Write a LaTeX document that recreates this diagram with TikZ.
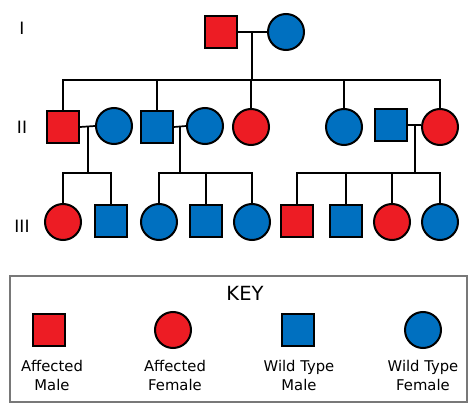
\documentclass[tikz,border=0pt]{standalone}
\usepackage{fontspec}
\setmainfont{DejaVu Sans}

\definecolor{affected}{RGB}{237,28,36}
\definecolor{wildtype}{RGB}{0,112,192}
\definecolor{keyframe}{RGB}{120,120,120}

\tikzset{
  male/.style={draw,shape=rectangle,line width=2pt,minimum size=32pt,inner sep=0pt},
  female/.style={draw,shape=circle,line width=2pt,minimum size=36pt,inner sep=0pt},
  gen/.style={font=\fontsize{17}{20}\selectfont},
  keytext/.style={font=\fontsize{14.8}{19}\selectfont}
}

\begin{document}
\begin{tikzpicture}[x=1pt,y=-1pt,line width=1.7pt]
  \useasboundingbox (0,0) rectangle (474,409);

  % generation labels
  \draw (22,28) node [gen] (genI) {I};
  \draw (22,127) node [gen] (genII) {II};
  \draw (22,226) node [gen] (genIII) {III};

  % generation I
  \draw (221,32) node [male,fill=affected] (mI) {};
  \draw (286,32) node [female,fill=wildtype] (fI) {};

  % generation II
  \draw (63,127) node [male,fill=affected] (mIIa) {};
  \draw (114,126) node [female,fill=wildtype] (fIIa) {};
  \draw (157,127) node [male,fill=wildtype] (mIIb) {};
  \draw (205,126) node [female,fill=wildtype] (fIIb) {};
  \draw (251,127) node [female,fill=affected] (fIIc) {};
  \draw (344,127) node [female,fill=wildtype] (fIId) {};
  \draw (391,125) node [male,fill=wildtype] (mIIc) {};
  \draw (440,127) node [female,fill=affected] (fIIe) {};

  % generation III
  \draw (63,222) node [female,fill=affected] (fIIIa) {};
  \draw (111,221) node [male,fill=wildtype] (mIIIa) {};
  \draw (159,222) node [female,fill=wildtype] (fIIIb) {};
  \draw (206,221) node [male,fill=wildtype] (mIIIb) {};
  \draw (252,222) node [female,fill=wildtype] (fIIIc) {};
  \draw (297,221) node [male,fill=affected] (mIIIc) {};
  \draw (346,221) node [male,fill=wildtype] (mIIId) {};
  \draw (392,222) node [female,fill=affected] (fIIId) {};
  \draw (440,222) node [female,fill=wildtype] (fIIIe) {};

  % couples and sibships
  \coordinate (cI) at (252,32);
  \coordinate (sI) at (252,80);
  \coordinate (cIIa) at (88,126);
  \coordinate (sIIa) at (88,173);
  \coordinate (cIIb) at (180,126);
  \coordinate (sIIb) at (180,173);
  \coordinate (cIIc) at (415,125);
  \coordinate (sIIc) at (415,173);

  \draw (mI.east) -- (fI.west);
  \draw (cI) -- (sI);
  \draw (mIIa.north) |- (sI);
  \draw (mIIb.north) |- (sI);
  \draw (fIIc.north) |- (sI);
  \draw (fIId.north) |- (sI);
  \draw (fIIe.north) |- (sI);

  \draw (mIIa.east) -- (fIIa.west);
  \draw (cIIa) -- (sIIa);
  \draw (fIIIa.north) |- (sIIa);
  \draw (mIIIa.north) |- (sIIa);

  \draw (mIIb.east) -- (fIIb.west);
  \draw (cIIb) -- (sIIb);
  \draw (fIIIb.north) |- (sIIb);
  \draw (mIIIb.north) |- (sIIb);
  \draw (fIIIc.north) |- (sIIb);

  \draw (mIIc.east) -- (mIIc.east -| fIIe.west);
  \draw (cIIc) -- (sIIc);
  \draw (mIIIc.north) |- (sIIc);
  \draw (mIIId.north) |- (sIIc);
  \draw (fIIId.north) |- (sIIc);
  \draw (fIIIe.north) |- (sIIc);

  % key
  \draw (238.5,339) node [draw=keyframe,line width=1.5pt,minimum width=457pt,minimum height=126pt] (keybox) {};
  \draw (245,293) node [font=\fontsize{19.5}{22}\selectfont] (keytitle) {KEY};

  \draw (49,330) node [male,fill=affected] (keyAM) {};
  \draw (173,330) node [female,fill=affected] (keyAF) {};
  \draw (298,330) node [male,fill=wildtype] (keyWM) {};
  \draw (423,330) node [female,fill=wildtype] (keyWF) {};

  \draw (52,377) node [keytext] (lblAM) {\begin{tabular}{c}Affected\\Male\end{tabular}};
  \draw (175,377) node [keytext] (lblAF) {\begin{tabular}{c}Affected\\Female\end{tabular}};
  \draw (299,377) node [keytext] (lblWM) {\begin{tabular}{c}Wild Type\\Male\end{tabular}};
  \draw (423,377) node [keytext] (lblWF) {\begin{tabular}{c}Wild Type\\Female\end{tabular}};

\end{tikzpicture}
\end{document}
